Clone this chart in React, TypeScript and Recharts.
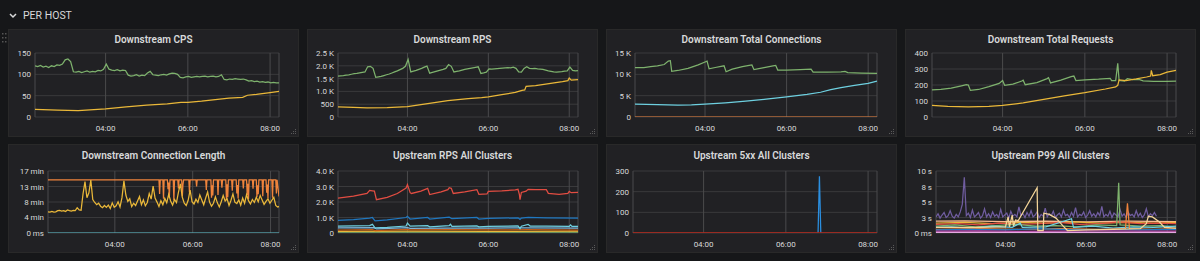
import { LineChart, Line, XAxis, YAxis, CartesianGrid } from 'recharts';

type Pt = { t: number; v: number };

// time axis in minutes since midnight (02:17 .. 08:13)
const T_START = 137;
const T_END = 493;
const timeTicks = [240, 360, 480];

const pairs = (a: number[][]): Pt[] => a.map(([t, v]) => ({ t, v }));
const steps = (vals: number[], step: number): Pt[] => vals.map((v, i) => ({ t: T_START + i * step, v }));

// y ticks
const cpsTicks = [0, 50, 100, 150];
const rpsTicks = [0, 500, 1000, 1500, 2000, 2500];
const connTicks = [0, 5000, 10000, 15000];
const reqTicks = [0, 100, 200, 300, 400];
const lenTicks = [0, 4.1667, 8.3333, 12.5, 16.6667]; // minutes
const upRpsTicks = [0, 1000, 2000, 3000, 4000];
const errTicks = [0, 100, 200, 300];
const p99Ticks = [0, 2.5, 5, 7.5, 10]; // seconds

// Downstream CPS (4 min steps)
const cpsTotal = [
  120, 118, 121, 117, 119, 116, 120, 118, 122, 121,
  124, 134, 136, 130, 106, 105, 107, 104, 106, 108,
  105, 107, 106, 109, 108, 112, 124, 112, 110, 109,
  111, 108, 110, 109, 98, 96, 97, 99, 96, 98,
  97, 103, 107, 99, 98, 97, 99, 100, 98, 101,
  103, 102, 100, 93, 92, 94, 95, 93, 94, 95,
  94, 95, 96, 94, 95, 96, 94, 95, 99, 88,
  87, 89, 88, 90, 89, 88, 89, 87, 84, 85,
  83, 84, 82, 83, 81, 82, 80, 81, 80, 80,
];
const cpsHost = [
  [137, 18], [170, 16], [200, 15], [240, 19], [270, 24], [300, 28], [330, 31], [350, 34], [360, 34],
  [380, 37], [400, 41], [420, 44], [440, 46], [447, 51], [460, 53], [480, 57], [493, 60],
];

// Downstream RPS (4 min steps)
const rpsTotal = [
  1600, 1610, 1620, 1640, 1650, 1670, 1690, 1700, 1720, 1740,
  1760, 1960, 1980, 1900, 1550, 1570, 1590, 1620, 1650, 1680,
  1720, 1760, 1800, 1850, 1900, 1980, 2250, 1760, 1790, 1820,
  1860, 1900, 1950, 1990, 1710, 1740, 1770, 1800, 1830, 1860,
  1900, 2050, 1980, 1760, 1780, 1800, 1830, 1860, 1880, 1900,
  1920, 1940, 1960, 1700, 1720, 1750, 1880, 1870, 1880, 1890,
  1900, 1910, 1920, 1930, 1920, 1950, 1900, 1760, 1750, 1900,
  1960, 1900, 1890, 1900, 1880, 1870, 1860, 1830, 1800, 1780,
  1760, 1750, 1760, 1770, 1790, 1800, 1950, 1820, 1800, 1810,
];
const rpsHost = [
  [137, 400], [160, 380], [180, 360], [210, 370], [240, 410], [270, 520], [300, 640], [330, 720],
  [350, 760], [360, 790], [380, 870], [400, 960], [410, 1040], [414, 1060], [416, 1200], [430, 1230],
  [450, 1300], [470, 1380], [478, 1420], [480, 1520], [483, 1440], [493, 1460],
];

// Downstream Total Connections
const connTotal = [
  [137, 11600], [150, 11550], [160, 11800], [170, 12000], [180, 12300], [186, 13100], [189, 13200],
  [191, 10700], [200, 10900], [215, 11400], [230, 12200], [240, 12900], [243, 13100], [246, 11300],
  [255, 11600], [268, 12000], [271, 10600], [280, 11200], [295, 11800], [305, 12100], [309, 12200],
  [312, 11100], [325, 11500], [340, 12000], [344, 12100], [347, 11000], [360, 11000], [380, 11100],
  [396, 11200], [399, 10500], [420, 10500], [440, 10600], [446, 10700], [450, 10400], [470, 10300],
  [493, 10200],
];
const connActive = [
  [137, 3000], [170, 2900], [200, 2800], [220, 2850], [240, 3000], [270, 3300], [300, 3700],
  [330, 4200], [360, 4700], [390, 5300], [410, 5800], [425, 6400], [440, 6900], [460, 7400],
  [480, 7900], [493, 8400],
];
const connDestroyed = [[137, 0], [493, 0]];

// Downstream Total Requests
const reqTotal = [
  [137, 170], [150, 172], [165, 180], [180, 195], [187, 202], [190, 200], [193, 166], [205, 172],
  [220, 190], [235, 210], [240, 228], [243, 198], [255, 205], [268, 225], [270, 230], [273, 202],
  [290, 215], [305, 240], [307, 246], [310, 213], [325, 230], [340, 252], [344, 256], [347, 228],
  [360, 232], [380, 236], [397, 242], [399, 228], [405, 228], [408, 335], [410, 228], [418, 225],
  [422, 240], [430, 234], [440, 234], [445, 226], [460, 222], [480, 222], [493, 224],
];
const reqActive = [
  [137, 72], [160, 66], [190, 63], [220, 66], [240, 72], [270, 88], [300, 110], [330, 132],
  [360, 152], [390, 175], [405, 188], [408, 198], [410, 232], [420, 228], [435, 238], [450, 250],
  [456, 256], [457, 292], [459, 258], [470, 265], [480, 280], [493, 292],
];

// Downstream Connection Length (minutes, 3 min steps)
const lenP50 = [
  5.7, 5.6, 5.8, 5.6, 5.7, 6.0, 6.1, 5.9, 6.0, 5.8,
  6.2, 6.0, 5.9, 6.1, 6.0, 6.8, 6.2, 6.1, 10.5, 13.8,
  9.5, 10.8, 14.2, 9.0, 8.2, 7.6, 8.0, 7.2, 6.8, 7.4,
  6.9, 7.5, 6.6, 8.1, 6.9, 7.3, 8.4, 7.0, 9.5, 14.0,
  10.2, 8.5, 9.2, 7.1, 8.0, 7.4, 8.6, 9.8, 7.6, 8.9,
  7.3, 8.2, 10.6, 9.1, 12.6, 9.4, 8.3, 7.1, 8.7, 7.6,
  9.3, 8.1, 10.4, 8.6, 7.5, 9.0, 8.2, 10.9, 13.2, 9.6,
  8.0, 7.4, 8.8, 11.5, 8.4, 7.8, 9.1, 8.2, 10.2, 8.9,
  7.6, 9.4, 11.0, 8.3, 7.2, 8.0, 9.7, 8.1, 7.0, 8.4,
  10.1, 8.6, 9.2, 7.4, 8.8, 10.5, 8.3, 7.9, 8.9, 7.5,
  9.4, 8.0, 10.3, 8.7, 7.8, 9.0, 8.2, 9.6, 8.4, 10.1,
  8.9, 7.7, 8.5, 9.2, 8.0, 8.8, 9.6, 7.4, 7.0, 7.2,
];
const lenP99 = [
  [137, 14.3], [308, 14.3], [309, 10.5], [310, 14.3], [314, 14.3], [315, 9.2], [316, 14.3],
  [321, 14.3], [322, 11.8], [323, 13.6], [324, 9.4], [325, 14.3], [330, 14.3], [331, 8.8], [332, 14.3],
  [337, 14.3], [338, 12.0], [339, 14.3], [343, 14.3], [344, 9.8], [345, 13.0], [346, 14.3],
  [354, 14.3], [355, 10.9], [356, 14.3], [365, 14.3], [366, 12.5], [367, 14.3], [380, 14.3],
  [381, 11.6], [382, 14.3], [388, 14.3], [389, 9.5], [390, 12.8], [391, 10.1], [392, 14.3],
  [398, 14.3], [399, 10.2], [400, 14.3], [404, 14.3], [405, 12.2], [406, 14.3], [411, 14.3],
  [412, 9.0], [413, 13.1], [414, 9.6], [415, 14.3], [420, 14.3], [421, 11.4], [422, 14.3],
  [427, 14.3], [428, 10.6], [429, 12.9], [430, 9.3], [431, 14.3], [437, 14.3], [438, 12.0],
  [439, 14.3], [443, 14.3], [444, 10.2], [445, 13.2], [446, 9.1], [447, 14.3], [452, 14.3],
  [453, 11.9], [454, 14.3], [458, 14.3], [459, 9.7], [460, 12.8], [461, 10.4], [462, 14.3],
  [467, 14.3], [468, 9.9], [469, 14.3], [473, 14.3], [474, 10.8], [475, 13.0], [476, 9.4],
  [477, 14.3], [482, 14.3], [483, 9.5], [484, 14.3], [488, 14.3], [489, 10.6], [490, 14.3], [493, 9.8],
];
const lenMin = [[137, 0], [493, 0]];

// Upstream RPS All Clusters
const upRed = [
  [137, 2250], [160, 2380], [180, 2550], [184, 2750], [188, 2720], [191, 2700], [194, 2150], [210, 2300],
  [225, 2550], [238, 2900], [240, 3120], [244, 2600], [246, 2550], [260, 2700], [270, 2880], [273, 2480],
  [290, 2650], [300, 2800], [302, 2920], [305, 2880], [308, 2550], [325, 2650], [343, 2800], [346, 2500],
  [358, 2520], [360, 2680], [380, 2720], [400, 2780], [404, 2820], [406, 2500], [407, 2150], [409, 2620],
  [416, 2700], [419, 2820], [430, 2800], [446, 2800], [449, 2560], [465, 2500], [478, 2560], [480, 2680],
  [483, 2600], [493, 2620],
];
const upBlue = [
  [137, 820], [160, 860], [184, 960], [188, 1000], [192, 780], [210, 840], [238, 1000], [240, 1080],
  [244, 900], [270, 1000], [273, 900], [302, 1020], [306, 920], [343, 1000], [346, 900], [360, 940],
  [404, 980], [407, 880], [409, 960], [419, 1000], [446, 970], [493, 960],
];
const upCyan = [
  [137, 440], [184, 480], [188, 560], [192, 330], [210, 360], [238, 450], [240, 640], [244, 440],
  [270, 470], [273, 400], [302, 480], [304, 560], [306, 420], [343, 460], [346, 400], [360, 420],
  [404, 460], [407, 280], [409, 440], [419, 560], [422, 450], [446, 440], [480, 430], [482, 520],
  [484, 430], [493, 430],
];
const upLightBlue = [
  [137, 330], [190, 340], [194, 260], [240, 340], [244, 300], [300, 320], [360, 320], [420, 330], [493, 320],
];
const upOrange = [
  [137, 190], [188, 220], [192, 160], [240, 230], [244, 200], [300, 210], [360, 200], [420, 210], [493, 190],
];
const upYellow = [[137, 110], [240, 120], [360, 110], [493, 115]];
const upGreen = [[137, 50], [240, 55], [360, 50], [493, 52]];

// Upstream 5xx All Clusters
const errBase = [[137, 1], [493, 1]];
const errSpike = [[137, 0], [407, 0], [409, 275], [411, 0], [493, 0]];

// Upstream P99 All Clusters (seconds)
const p99Purple = [
  2.6, 3.1, 2.4, 2.9, 3.3, 2.5, 2.8, 3.6, 2.7, 2.4, 3.0, 2.6, 3.4, 4.6, 9.0, 2.8, 3.2, 2.5, 3.7, 2.6,
  2.9, 3.3, 2.4, 2.8, 3.9, 2.6, 3.1, 2.5, 3.4, 2.7,
  3.0, 2.5, 3.8, 2.6, 2.9, 3.2, 2.4, 3.5, 2.7, 3.0,
  2.6, 4.2, 2.8, 3.1, 2.5, 3.3, 2.7, 3.6, 2.6, 2.9,
  3.4, 2.5, 3.0, 2.7, 4.0, 2.6, 3.1, 2.8, 3.5, 2.5,
  2.9, 3.2, 2.6, 3.7, 2.8, 3.0, 2.5, 3.3, 2.7, 4.1,
  2.6, 3.0, 2.8, 3.4, 2.5, 2.9, 3.6, 2.7, 3.1, 2.6,
  3.3, 2.8, 4.3, 2.6, 3.0, 2.7, 3.5, 2.5, 3.2, 2.9,
  2.6, 3.8, 2.7, 3.1, 2.5, 3.4, 2.8, 3.0, 2.6, 3.6,
  2.7, 3.2, 2.5, 2.9, 3.9, 2.6, 3.1, 2.8, 3.3, 2.7,
];
const p99Tan = [
  [137, 0.9], [200, 0.9], [240, 1.0], [244, 2.6], [246, 1.0], [250, 2.9], [252, 1.1], [255, 2.1],
  [259, 2.0], [287, 7.3], [288, 0.4], [296, 0.4], [297, 3.2], [305, 3.0], [315, 2.4], [325, 1.2],
  [332, 0.4], [360, 0.5], [400, 0.6], [440, 0.7], [449, 1.5], [452, 2.7], [458, 2.6], [468, 1.8],
  [476, 0.9], [493, 0.8],
];
const p99Peach = [[137, 1.9], [180, 1.95], [240, 1.85], [300, 1.9], [360, 1.8], [420, 1.9], [493, 1.85]];
const p99Yellow = [[137, 1.6], [180, 1.7], [220, 1.5], [260, 1.7], [300, 1.6], [340, 1.8], [380, 1.6], [420, 1.7], [460, 1.6], [493, 1.7]];
const p99Red = [
  [137, 1.4], [170, 1.5], [200, 1.3], [230, 1.6], [260, 1.4], [290, 1.5], [320, 1.7], [350, 1.4],
  [380, 1.5], [410, 1.8], [440, 1.5], [470, 1.6], [493, 1.5],
];
const p99Green = [
  [137, 1.1], [165, 1.3], [195, 1.0], [225, 1.2], [255, 1.4], [285, 1.1], [315, 1.2], [345, 1.0],
  [375, 1.3], [405, 1.2], [408, 8.1], [410, 1.3], [440, 1.1], [470, 1.2], [493, 1.0],
];
const p99Cyan = [
  [137, 0.9], [160, 1.0], [190, 0.8], [220, 1.1], [250, 0.9], [262, 1.6], [265, 0.9], [300, 1.0],
  [338, 2.3], [341, 0.9], [370, 1.1], [400, 0.8], [430, 1.0], [460, 0.9], [493, 1.1],
];
const p99Orange = [[137, 0.6], [200, 0.7], [260, 0.6], [320, 0.7], [380, 0.6], [418, 0.7], [421, 4.8], [424, 0.7], [460, 0.6], [493, 0.7]];
const p99Blue = [[137, 0.5], [190, 0.6], [240, 0.5], [290, 0.7], [340, 0.5], [390, 0.6], [440, 0.5], [493, 0.6]];
const p99Pink = [[137, 0.3], [200, 0.35], [260, 0.25], [320, 0.3], [380, 0.35], [440, 0.3], [493, 0.3]];
const p99Light = [[137, 0.1], [300, 0.12], [493, 0.1]];

const plain = (v: number) => `${v}`;
const kilo = (dec: number) => (v: number) => (v >= 1000 ? `${(v / 1000).toFixed(dec)} K` : `${v}`);
const minutes = (v: number) => (v === 0 ? '0 ms' : `${Math.round(v)} min`);
const seconds = (v: number) => (v === 0 ? '0 ms' : `${Math.round(v)} s`);
const clock = (m: number) => `${String(Math.floor(m / 60)).padStart(2, '0')}:00`;

const TEXT = '#d8d9da';

function YTick({ x, y, payload, fmt }: any) {
  return (
    <text x={x} y={y} dy={3} textAnchor="end" fill={TEXT} fontSize={8}>
      {fmt(payload.value)}
    </text>
  );
}

function XTick({ x, y, payload }: any) {
  return (
    <text x={x} y={y} dy={6} textAnchor="middle" fill={TEXT} fontSize={8}>
      {clock(payload.value)}
    </text>
  );
}

type Series = { data: Pt[]; color: string };
type PanelProps = {
  left: number;
  top: number;
  height: number;
  plotTop: number;
  titleTop: number;
  title: string;
  yWidth: number;
  yMax: number;
  yTicks: number[];
  yFmt: (v: number) => string;
  series: Series[];
};

function Panel(p: PanelProps) {
  return (
    <div
      style={{
        position: 'absolute', left: p.left, top: p.top, width: 291, height: p.height,
        background: '#212124', boxShadow: 'inset 0 0 0 1px #292929',
      }}
    >
      <div
        style={{
          position: 'absolute', top: p.titleTop, left: 0, right: 0, textAlign: 'center',
          fontSize: 10, lineHeight: '12px', fontWeight: 600, color: TEXT,
        }}
      >
        {p.title}
      </div>
      <div style={{ position: 'absolute', left: 0, top: 0 }}>
        <LineChart width={291} height={p.height} margin={{ top: p.plotTop, right: 20, bottom: 0, left: 0 }}>
          <CartesianGrid vertical={false} stroke="#3a3a3c" />
          <CartesianGrid horizontal={false} stroke="#4a4a4c" />
          <XAxis
            type="number" dataKey="t" domain={[T_START, T_END]} ticks={timeTicks} allowDataOverflow
            axisLine={false} tickLine={false} tickSize={0} tickMargin={8} height={20} interval={0}
            tick={<XTick />}
          />
          <YAxis
            type="number" domain={[0, p.yMax]} ticks={p.yTicks} allowDataOverflow
            axisLine={false} tickLine={false} tickSize={0} tickMargin={4} width={p.yWidth} interval={0}
            tick={<YTick fmt={p.yFmt} />}
          />
          {p.series.map((s, i) => (
            <Line
              key={i} data={s.data} dataKey="v" type="linear" stroke={s.color} strokeWidth={1.25}
              dot={false} activeDot={false} isAnimationActive={false}
            />
          ))}
        </LineChart>
      </div>
      <svg width={6} height={6} style={{ position: 'absolute', left: 283, top: p.height - 8 }}>
        {[[4, 0], [2, 2], [4, 2], [0, 4], [2, 4], [4, 4]].map(([x, y], i) => (
          <rect key={i} x={x} y={y} width={1} height={1} fill="#5a5a5a" />
        ))}
      </svg>
    </div>
  );
}

const row1 = { top: 29, height: 108, plotTop: 24, titleTop: 5 };
const row2 = { top: 144, height: 109, plotTop: 27, titleTop: 6 };

export default function App() {
  return (
    <div
      style={{
        position: 'fixed', left: 0, top: 0, width: 1200, height: 261, background: '#161719',
        fontFamily: 'Roboto, sans-serif', overflow: 'hidden',
      }}
    >
      <svg width={8} height={6} style={{ position: 'absolute', left: 9, top: 13 }}>
        <polyline points="1,1 4,4 7,1" fill="none" stroke={TEXT} strokeWidth={1.5} />
      </svg>
      <div style={{ position: 'absolute', left: 23, top: 9, fontSize: 10.5, lineHeight: '14px', color: TEXT }}>PER HOST</div>
      <svg width={5} height={10} style={{ position: 'absolute', left: 2, top: 33 }}>
        {[[0, 0], [3, 0], [0, 4], [3, 4], [0, 8], [3, 8]].map(([x, y], i) => (
          <rect key={i} x={x} y={y} width={1.5} height={1.5} fill="#555" />
        ))}
      </svg>

      <Panel {...row1} left={8} title="Downstream CPS" yWidth={27} yMax={150} yTicks={cpsTicks} yFmt={plain}
        series={[
          { data: steps(cpsTotal, 4), color: '#7EB26D' },
          { data: pairs(cpsHost), color: '#EAB839' },
        ]} />
      <Panel {...row1} left={307} title="Downstream RPS" yWidth={31} yMax={2500} yTicks={rpsTicks} yFmt={kilo(1)}
        series={[
          { data: steps(rpsTotal, 4), color: '#7EB26D' },
          { data: pairs(rpsHost), color: '#EAB839' },
        ]} />
      <Panel {...row1} left={606} title="Downstream Total Connections" yWidth={29} yMax={15000} yTicks={connTicks} yFmt={kilo(0)}
        series={[
          { data: pairs(connTotal), color: '#7EB26D' },
          { data: pairs(connActive), color: '#6ED0E0' },
          { data: pairs(connDestroyed), color: '#EF843C' },
        ]} />
      <Panel {...row1} left={905} title="Downstream Total Requests" yWidth={27} yMax={400} yTicks={reqTicks} yFmt={plain}
        series={[
          { data: pairs(reqTotal), color: '#7EB26D' },
          { data: pairs(reqActive), color: '#EAB839' },
        ]} />

      <Panel {...row2} left={8} title="Downstream Connection Length" yWidth={40} yMax={16.6667} yTicks={lenTicks} yFmt={minutes}
        series={[
          { data: pairs(lenMin), color: '#5fc4cf' },
          { data: pairs(lenP99), color: '#EF843C' },
          { data: steps(lenP50, 3), color: '#EAB839' },
        ]} />
      <Panel {...row2} left={307} title="Upstream RPS All Clusters" yWidth={31} yMax={4000} yTicks={upRpsTicks} yFmt={kilo(1)}
        series={[
          { data: pairs(upGreen), color: '#7EB26D' },
          { data: pairs(upYellow), color: '#EAB839' },
          { data: pairs(upOrange), color: '#C15C17' },
          { data: pairs(upLightBlue), color: '#82B5D8' },
          { data: pairs(upCyan), color: '#6ED0E0' },
          { data: pairs(upBlue), color: '#1F78C1' },
          { data: pairs(upRed), color: '#E24D42' },
        ]} />
      <Panel {...row2} left={606} title="Upstream 5xx All Clusters" yWidth={27} yMax={300} yTicks={errTicks} yFmt={plain}
        series={[
          { data: pairs(errSpike), color: '#2b8fe0' },
          { data: pairs(errBase), color: '#BF1B00' },
        ]} />
      <Panel {...row2} left={905} title="Upstream P99 All Clusters" yWidth={31} yMax={10} yTicks={p99Ticks} yFmt={seconds}
        series={[
          { data: steps(p99Purple, 3), color: '#705DA0' },
          { data: pairs(p99Peach), color: '#F9BA8F' },
          { data: pairs(p99Yellow), color: '#EAB839' },
          { data: pairs(p99Red), color: '#E24D42' },
          { data: pairs(p99Green), color: '#7EB26D' },
          { data: pairs(p99Cyan), color: '#6ED0E0' },
          { data: pairs(p99Orange), color: '#EF843C' },
          { data: pairs(p99Blue), color: '#1F78C1' },
          { data: pairs(p99Pink), color: '#BA43A9' },
          { data: pairs(p99Light), color: '#E5A8E2' },
          { data: pairs(p99Tan), color: '#F4D598' },
        ]} />
    </div>
  );
}
